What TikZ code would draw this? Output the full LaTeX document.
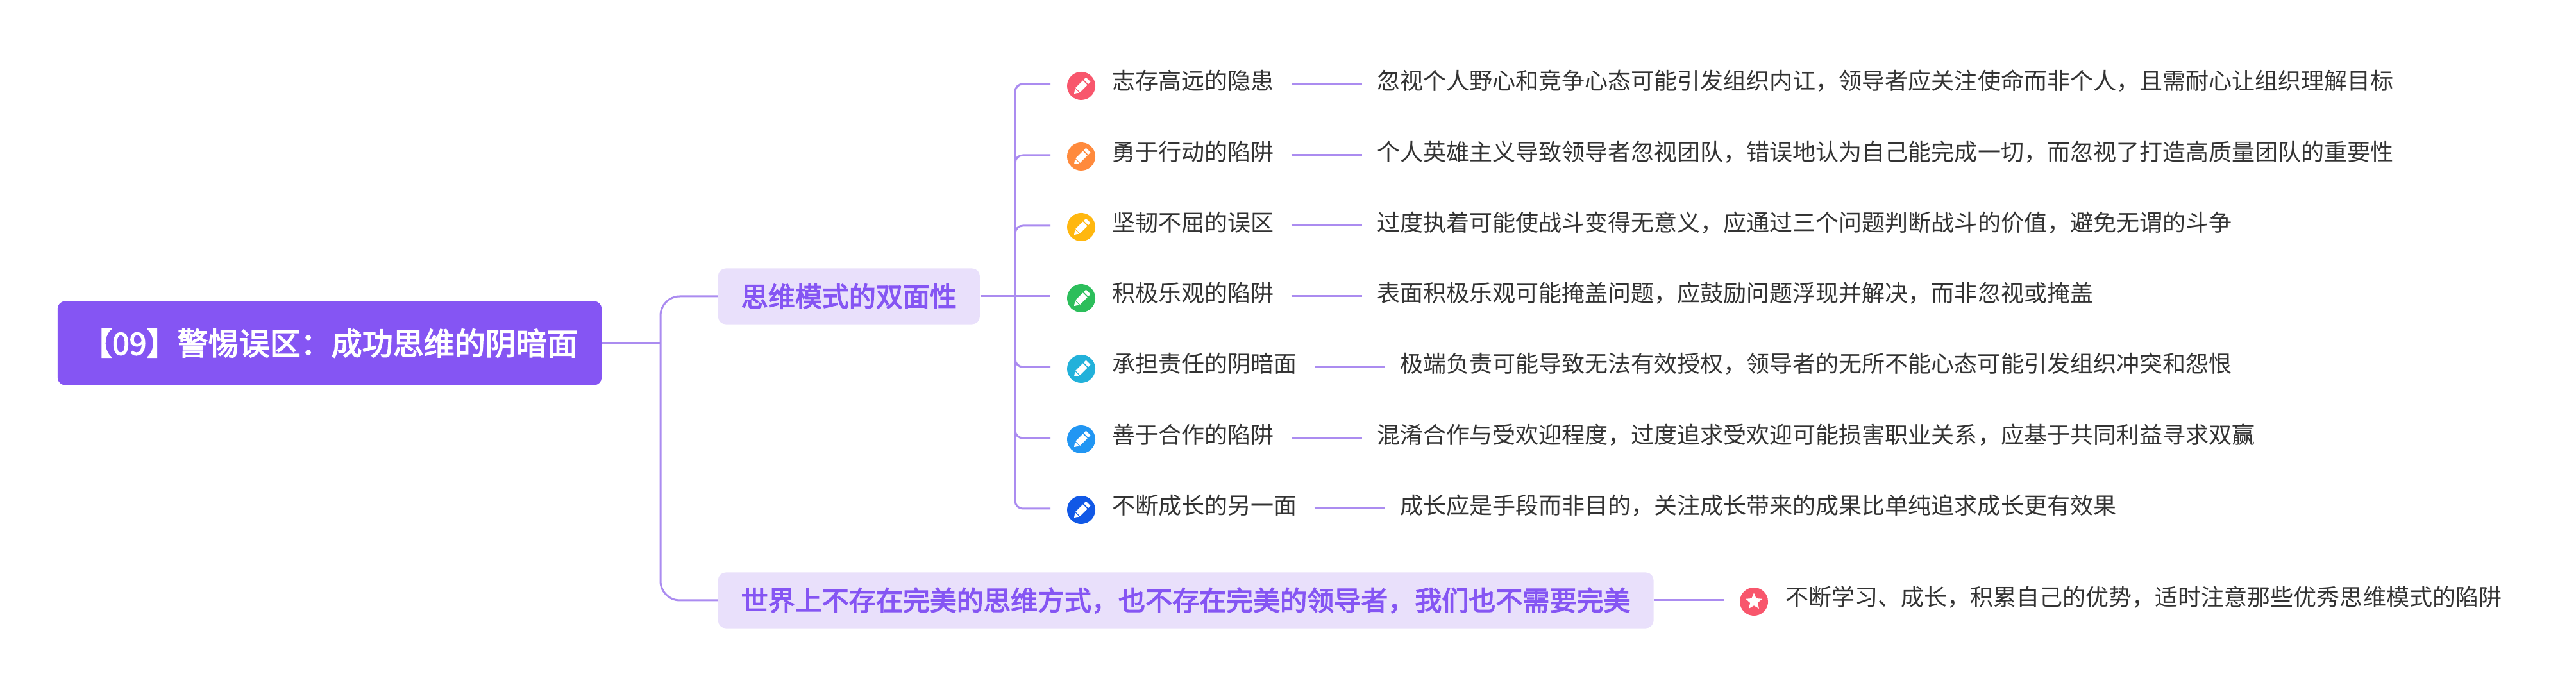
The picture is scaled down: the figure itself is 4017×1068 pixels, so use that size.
\documentclass[tikz,border=0pt]{standalone}
\usepackage{fontspec}
\setmainfont{Noto Sans CJK SC}
\newfontfamily\heavycjk[FakeBold=3]{Noto Sans CJK SC}
\usetikzlibrary{shapes.geometric}
\definecolor{mainpurple}{HTML}{8555F3}
\definecolor{palepurple}{HTML}{E9E0FB}
\definecolor{linepurple}{HTML}{AB8CF0}
\definecolor{inkgray}{HTML}{333333}
\definecolor{iconred}{HTML}{F8566C}
\definecolor{iconorange}{HTML}{FF8A3C}
\definecolor{iconyellow}{HTML}{FFB70F}
\definecolor{icongreen}{HTML}{2CBE5B}
\definecolor{iconcyan}{HTML}{22B1DA}
\definecolor{iconblue}{HTML}{2196F3}
\definecolor{icondeep}{HTML}{1158E6}
\tikzset{
    rootbox/.style={fill=mainpurple,text=white,rounded corners=.12cm,minimum width=8.48cm,minimum height=1.31cm,font=\fontsize{13.66}{16}\heavycjk},
    branchbox/.style={fill=palepurple,text=mainpurple,rounded corners=.12cm,minimum height=.87cm,inner xsep=.36cm,font=\fontsize{11.95}{14}\heavycjk},
    icon/.style={circle,fill=#1,minimum size=.44cm,inner sep=0pt},
    item/.style={anchor=west,text=inkgray,inner xsep=.26cm,inner ysep=0pt,text height=.325cm,text depth=.15cm,font=\fontsize{10.24}{12}\selectfont},
    note/.style={item,inner xsep=.23cm},
    link/.style={draw=linepurple,line width=.03cm}
}
\newcommand{\pencilmark}[1]{
    \fill[white,shift={(#1)}] (-11,12) -- (-9.6,4) -- (-3,10.6) -- cycle;
    \fill[white,shift={(#1)}] (-8.8,2.8) -- (2.5,-8.5) -- (9.5,-1.5) -- (-1.8,9.8) -- cycle;
    \fill[white,shift={(#1)}] (3.9,-9.9) -- (7.4,-13.4) -- (14.4,-6.4) -- (10.9,-2.9) -- cycle;
}
\begin{document}
\begin{tikzpicture}[x=.01cm,y=-.01cm]
    \useasboundingbox (0,0) rectangle (4017,1068);

    \node[rootbox] (root) at (514,535) {【09】警惕误区：成功思维的阴暗面};
    \node[branchbox,anchor=west] (thinking) at (1119,462) {思维模式的双面性};
    \node[branchbox,anchor=west] (perfect) at (1119,936) {世界上不存在完美的思维方式，也不存在完美的领导者，我们也不需要完美};

    \coordinate (rootfork) at (1030,535);
    \coordinate (thinkfork) at (1583,462);
    \draw[link] (root.east) -- (rootfork);
    \draw[link,rounded corners=.3cm] (rootfork) |- (thinking.west);
    \draw[link,rounded corners=.3cm] (rootfork) |- (perfect.west);

    \node[icon=iconred] (iconA) at (1686,134) {};
    \node[icon=iconorange] (iconB) at (1686,244) {};
    \node[icon=iconyellow] (iconC) at (1686,354) {};
    \node[icon=icongreen] (iconD) at (1686,465) {};
    \node[icon=iconcyan] (iconE) at (1686,575) {};
    \node[icon=iconblue] (iconF) at (1686,685) {};
    \node[icon=icondeep] (iconG) at (1686,795) {};
    \pencilmark{iconA}
    \pencilmark{iconB}
    \pencilmark{iconC}
    \pencilmark{iconD}
    \pencilmark{iconE}
    \pencilmark{iconF}
    \pencilmark{iconG}

    \node[item] (trapA) at (1708,131) {志存高远的隐患};
    \node[item] (trapB) at (1708,242) {勇于行动的陷阱};
    \node[item] (trapC) at (1708,352) {坚韧不屈的误区};
    \node[item] (trapD) at (1708,462) {积极乐观的陷阱};
    \node[item] (trapE) at (1708,572) {承担责任的阴暗面};
    \node[item] (trapF) at (1708,683) {善于合作的陷阱};
    \node[item] (trapG) at (1708,793) {不断成长的另一面};

    \node[note] (noteA) at (2124,131) {忽视个人野心和竞争心态可能引发组织内讧，领导者应关注使命而非个人，且需耐心让组织理解目标};
    \node[note] (noteB) at (2124,242) {个人英雄主义导致领导者忽视团队，错误地认为自己能完成一切，而忽视了打造高质量团队的重要性};
    \node[note] (noteC) at (2124,352) {过度执着可能使战斗变得无意义，应通过三个问题判断战斗的价值，避免无谓的斗争};
    \node[note] (noteD) at (2124,462) {表面积极乐观可能掩盖问题，应鼓励问题浮现并解决，而非忽视或掩盖};
    \node[note] (noteE) at (2160,572) {极端负责可能导致无法有效授权，领导者的无所不能心态可能引发组织冲突和怨恨};
    \node[note] (noteF) at (2124,683) {混淆合作与受欢迎程度，过度追求受欢迎可能损害职业关系，应基于共同利益寻求双赢};
    \node[note] (noteG) at (2160,793) {成长应是手段而非目的，关注成长带来的成果比单纯追求成长更有效果};

    \coordinate (stubA) at (1638,131);
    \coordinate (stubB) at (1638,242);
    \coordinate (stubC) at (1638,352);
    \coordinate (stubD) at (1638,462);
    \coordinate (stubE) at (1638,572);
    \coordinate (stubF) at (1638,683);
    \coordinate (stubG) at (1638,793);
    \draw[link] (thinking.east) -- (stubD);
    \draw[link,rounded corners=.12cm] (thinkfork) |- (stubA);
    \draw[link,rounded corners=.12cm] (thinkfork) |- (stubB);
    \draw[link,rounded corners=.12cm] (thinkfork) |- (stubC);
    \draw[link,rounded corners=.12cm] (thinkfork) |- (stubE);
    \draw[link,rounded corners=.12cm] (thinkfork) |- (stubF);
    \draw[link,rounded corners=.12cm] (thinkfork) |- (stubG);

    \draw[link] (trapA.east) -- (noteA.west);
    \draw[link] (trapB.east) -- (noteB.west);
    \draw[link] (trapC.east) -- (noteC.west);
    \draw[link] (trapD.east) -- (noteD.west);
    \draw[link] (trapE.east) -- (noteE.west);
    \draw[link] (trapF.east) -- (noteF.west);
    \draw[link] (trapG.east) -- (noteG.west);

    \node[icon=iconred] (iconH) at (2735,938) {};
    \node[star,star points=5,star point ratio=2.2,fill=white,minimum size=.27cm,inner sep=0pt] (starmark) at (iconH.center) {};
    \node[item] (noteH) at (2758,936) {不断学习、成长，积累自己的优势，适时注意那些优秀思维模式的陷阱};
    \coordinate (stubH) at (2689,936);
    \draw[link] (perfect.east) -- (stubH);
\end{tikzpicture}
\end{document}
